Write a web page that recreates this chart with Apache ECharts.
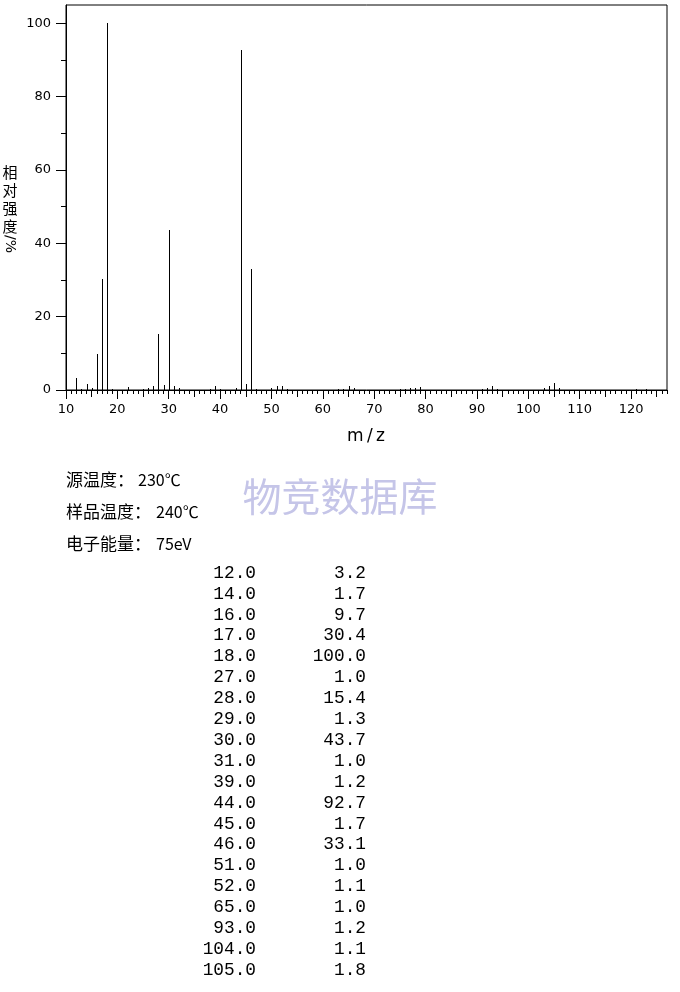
<!DOCTYPE html>
<html>
<head>
<meta charset="utf-8">
<script src="https://cdn.jsdelivr.net/npm/echarts@6/dist/echarts.min.js"></script>
<style>
html,body{margin:0;padding:0;background:#fff;}
#c{width:680px;height:992px;}
</style>
</head>
<body>
<div id="c"></div>
<script>
// Listed peaks (m/z, relative intensity %)
const tableMz = [12, 14, 16, 17, 18, 27, 28, 29, 30, 31, 39, 44, 45, 46, 51, 52, 65, 93, 104, 105];
const tableInt = [3.2, 1.7, 9.7, 30.4, 100.0, 1.0, 15.4, 1.3, 43.7, 1.0, 1.2, 92.7, 1.7, 33.1, 1.0, 1.1, 1.0, 1.2, 1.1, 1.8];
// Small unlisted peaks
const minorMz = [13, 15, 19, 22, 25, 26, 32, 38, 40, 43, 47, 50, 53, 63, 64, 66, 75, 76, 77, 78, 79, 91, 92, 94, 103, 106, 121, 123];
const minorInt = [0.3, 0.6, 0.3, 0.8, 0.3, 0.6, 0.5, 0.4, 0.3, 0.5, 0.3, 0.5, 0.3, 0.4, 0.3, 0.5, 0.3, 0.4, 0.5, 0.6, 0.8, 0.4, 0.6, 0.4, 0.5, 0.6, 0.3, 0.3];
// Axis ticks
const xMajorTicks = [10, 20, 30, 40, 50, 60, 70, 80, 90, 100, 110, 120];
const xMidTicks = [15, 25, 35, 45, 55, 65, 75, 85, 95, 105, 115, 125];
const yMajorTicks = [0, 20, 40, 60, 80, 100];
const yMinorTicks = [10, 30, 50, 70, 90];
// Texts
const yTitleChars = ['相', '对', '强', '度'];
const infoLabels = ['源温度：', '样品温度：', '电子能量：'];
const infoValues = ['230℃', '240℃', '75eV'];

const chart = echarts.init(document.getElementById('c'));
const peaks = [];
tableMz.forEach((m, i) => peaks.push([m, tableInt[i]]));
minorMz.forEach((m, i) => peaks.push([m, minorInt[i]]));

const graphics = [];
const yCharY = [172, 190, 208, 226];
yTitleChars.forEach((ch, i) => {
  graphics.push({type: 'text', x: 10, y: yCharY[i], style: {text: ch, font: '15px "Noto Sans CJK SC"', fill: '#000', align: 'center', verticalAlign: 'middle'}});
});
graphics.push({type: 'text', x: 10, y: 244, rotation: -Math.PI / 2, style: {text: '/%', font: '14px "DejaVu Sans"', fill: '#000', align: 'center', verticalAlign: 'middle'}});
graphics.push({type: 'text', x: 366, y: 437, style: {text: 'm\u2009/\u2009z', font: '17px "DejaVu Sans"', fill: '#000', align: 'center', verticalAlign: 'middle'}});
const infoValueX = [138, 156, 156];
infoLabels.forEach((t, i) => {
  const y = 480 + i * 32;
  graphics.push({type: 'text', x: 66, y: y, style: {text: t, font: '17px "Noto Sans CJK SC"', fill: '#000', align: 'left', verticalAlign: 'middle'}});
  graphics.push({type: 'text', x: infoValueX[i], y: y, style: {text: infoValues[i], font: '16px "Noto Sans CJK SC"', fill: '#000', align: 'left', verticalAlign: 'middle'}});
});
graphics.push({type: 'text', x: 340, y: 496, z: -1, style: {text: '物竞数据库', font: '39px "Noto Sans CJK SC"', fill: '#c5c5e8', align: 'center', verticalAlign: 'middle'}});
tableMz.forEach((m, i) => {
  const y = 573 + i * 20.9;
  graphics.push({type: 'text', x: 256, y: y, style: {text: m.toFixed(1), font: '17.8px "Liberation Mono"', fill: '#000', align: 'right', verticalAlign: 'middle'}});
  graphics.push({type: 'text', x: 366, y: y, style: {text: tableInt[i].toFixed(1), font: '17.8px "Liberation Mono"', fill: '#000', align: 'right', verticalAlign: 'middle'}});
});

const xBase = {type: 'value', min: 10, max: 127, gridIndex: 0, position: 'bottom', splitLine: {show: false}};
const yBase = {type: 'value', min: 0, max: 105, gridIndex: 0, position: 'left', splitLine: {show: false}};

chart.setOption({
  animation: false,
  backgroundColor: '#fff',
  grid: {left: 66, right: 13, top: 5, bottom: 602, show: true, borderColor: '#000', borderWidth: 1, backgroundColor: 'transparent'},
  xAxis: [
    Object.assign({}, xBase, {
      axisLine: {show: true, lineStyle: {color: '#000', width: 1}},
      axisTick: {show: true, inside: false, length: 9, customValues: xMajorTicks, lineStyle: {color: '#000'}},
      axisLabel: {show: true, customValues: xMajorTicks, margin: 13, color: '#000', fontSize: 13, fontFamily: 'DejaVu Sans'}
    }),
    Object.assign({}, xBase, {
      axisLine: {show: false},
      axisTick: {show: true, inside: false, length: 7, customValues: xMidTicks, lineStyle: {color: '#000'}},
      axisLabel: {show: false}
    }),
    Object.assign({}, xBase, {
      interval: 1,
      axisLine: {show: false},
      axisTick: {show: true, inside: false, length: 4, lineStyle: {color: '#000'}},
      axisLabel: {show: false}
    })
  ],
  yAxis: [
    Object.assign({}, yBase, {
      axisLine: {show: true, lineStyle: {color: '#000', width: 1}},
      axisTick: {show: true, inside: false, length: 10, customValues: yMajorTicks, lineStyle: {color: '#000'}},
      axisLabel: {show: true, customValues: yMajorTicks, margin: 15, color: '#000', fontSize: 13, fontFamily: 'DejaVu Sans'}
    }),
    Object.assign({}, yBase, {
      axisLine: {show: false},
      axisTick: {show: true, inside: false, length: 5, customValues: yMinorTicks, lineStyle: {color: '#000'}},
      axisLabel: {show: false}
    })
  ],
  series: [{
    type: 'custom',
    xAxisIndex: 0,
    yAxisIndex: 0,
    data: peaks,
    renderItem: function (params, api) {
      const p0 = api.coord([api.value(0), 0]);
      const p1 = api.coord([api.value(0), api.value(1)]);
      const x = Math.round(p0[0]) + 0.5;
      return {type: 'line', shape: {x1: x, y1: Math.round(p0[1]), x2: x, y2: Math.round(p1[1])}, style: {stroke: '#000', lineWidth: 1}};
    },
    emphasis: {disabled: true}
  }],
  graphic: graphics
});
</script>
</body>
</html>
